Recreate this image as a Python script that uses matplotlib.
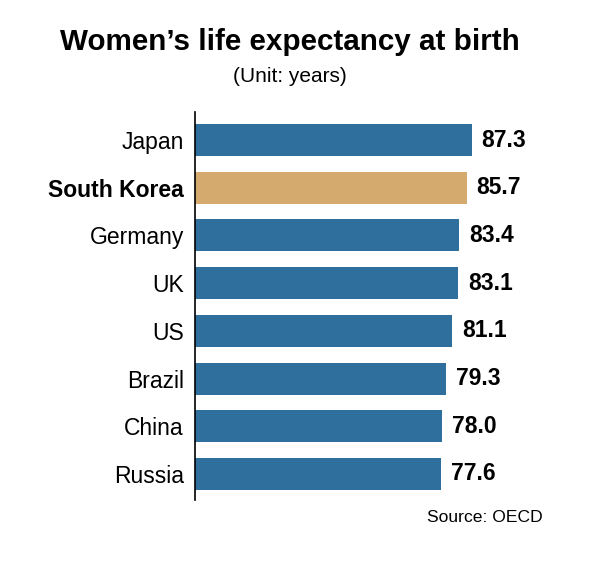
import matplotlib
matplotlib.use("Agg")
import matplotlib.pyplot as plt
import matplotlib.transforms as mtransforms

# data
countries = ["Japan", "South Korea", "Germany", "UK", "US", "Brazil", "China", "Russia"]
values = [87.3, 85.7, 83.4, 83.1, 81.1, 79.3, 78.0, 77.6]
highlight = "South Korea"

blue = "#2e6f9e"
tan = "#d4aa6e"

plt.rcParams['font.family'] = ['Liberation Sans', 'DejaVu Sans']

W, H = 604, 561
fig = plt.figure(figsize=(W / 100, H / 100), dpi=100)

# axes box in pixels: left edge at axis line, top 112, bottom 500
left, top, bottom, right = 195, 112, 500, 585
ax = fig.add_axes([left / W, 1 - bottom / H, (right - left) / W, (bottom - top) / H])

ypos = list(range(len(countries)))
colors = [tan if c == highlight else blue for c in countries]
ax.barh(ypos, values, height=0.67, color=colors, left=0)

ax.set_xlim(0, (right - left) / 3.17)
ax.set_ylim(7.545, -0.587)

for y, v in zip(ypos, values):
    ax.annotate(f"{v:.1f}", (v, y), xytext=(7, 0), textcoords="offset points",
                ha="left", va="center", fontsize=16.5, fontweight="bold")

ax.set_yticks(ypos)
ax.set_yticklabels(countries, fontsize=16.5)
# nudge country names up a little, like the original
shift = mtransforms.ScaledTranslation(0, 3 / 100, fig.dpi_scale_trans)
for lab in ax.get_yticklabels():
    lab.set_transform(lab.get_transform() + shift)
    if lab.get_text() == highlight:
        lab.set_fontweight("bold")
ax.tick_params(axis="y", length=0, pad=8)
ax.set_xticks([])

for s in ["top", "right", "bottom"]:
    ax.spines[s].set_visible(False)
ax.spines["left"].set_linewidth(1.2)

fig.text(290 / W, 1 - 42 / H, "Women\u2019s life expectancy at birth",
         ha="center", va="center", fontsize=21.3, fontweight="bold")
fig.text(290 / W, 1 - 77 / H, "(Unit: years)", ha="center", va="center", fontsize=15)
fig.text(543 / W, 1 - 518 / H, "Source: OECD", ha="right", va="center", fontsize=12.6)

fig.savefig("out.png", dpi=100)
